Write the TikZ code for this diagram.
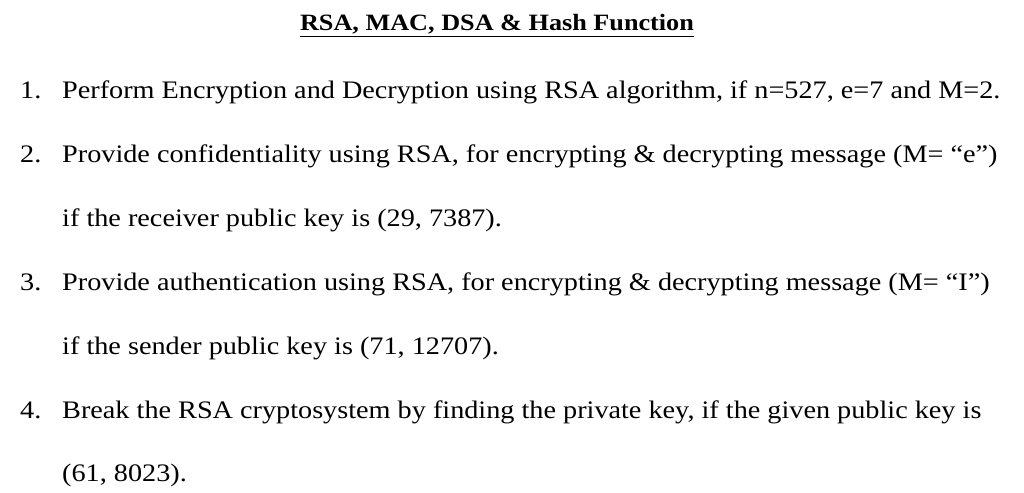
\documentclass[tikz,border=0pt]{standalone}
\usepackage{fontspec}
\setmainfont{Liberation Serif}[FakeStretch=1.12]
\begin{document}
\begin{tikzpicture}[x=1pt,y=1pt,txt/.style={anchor=base west,inner sep=0pt,font=\fontsize{25.2}{28}\selectfont}]
\useasboundingbox (0,0) rectangle (1024,492);
\node[anchor=base,inner sep=0pt,font=\fontsize{23.4}{28}\selectfont\bfseries] (t) at (497,492-31) {\underline{RSA, MAC, DSA \& Hash Function}};
\node[txt] (n1) at (20,492-99) {1.};
\node[txt] (l1) at (62,492-99) {Perform Encryption and Decryption using RSA algorithm, if n=527, e=7 and M=2.};
\node[txt] (n2) at (20,492-163) {2.};
\node[txt] (l2) at (62,492-163) {Provide confidentiality using RSA, for encrypting \& decrypting message (M= “e”)};
\node[txt] (l2b) at (62,492-227) {if the receiver public key is (29, 7387).};
\node[txt] (n3) at (20,492-291) {3.};
\node[txt] (l3) at (62,492-291) {Provide authentication using RSA, for encrypting \& decrypting message (M= “I”)};
\node[txt] (l3b) at (62,492-355) {if the sender public key is (71, 12707).};
\node[txt] (n4) at (20,492-419) {4.};
\node[txt] (l4) at (62,492-419) {Break the RSA cryptosystem by finding the private key, if the given public key is};
\node[txt] (l4b) at (62,492-481) {(61, 8023).};
\end{tikzpicture}
\end{document}
